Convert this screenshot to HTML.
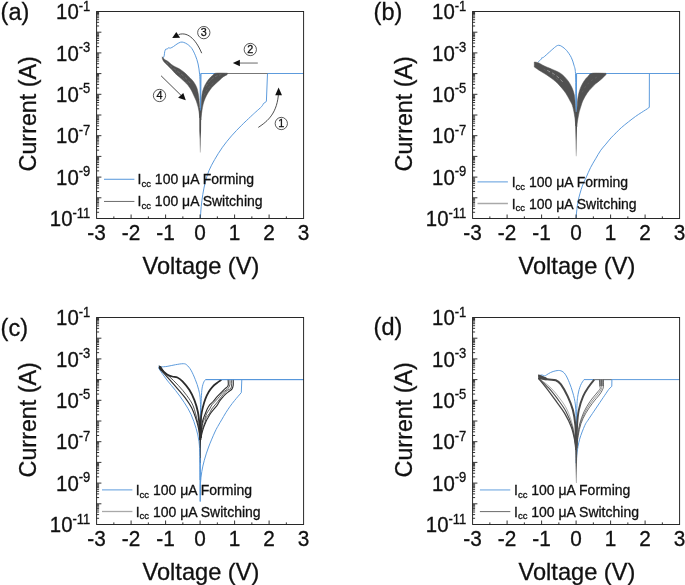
<!DOCTYPE html>
<html lang="en"><head><meta charset="utf-8"><title>I-V characteristics</title>
<style>html,body{margin:0;padding:0;background:#fff}svg{display:block}text{font-family:"Liberation Sans", Arial, sans-serif;fill:#111;stroke:#111;stroke-width:0.3px}</style>
</head><body>
<svg width="685" height="585" viewBox="0 0 685 585">
<rect width="685" height="585" fill="#fff"/>
<g id="plot-a">
<path d="M200.2 100 C200.18 97.5 200.2 89.3 200.1 85 C200 80.7 199.93 77.7 199.6 74.2 C199.27 70.7 198.78 67.07 198.1 64 C197.42 60.93 196.53 58.37 195.5 55.8 C194.47 53.23 193.18 50.48 191.9 48.6 C190.62 46.72 189.17 45.53 187.8 44.5 C186.43 43.47 184.9 42.78 183.7 42.4 C182.5 42.02 181.72 41.93 180.6 42.2 C179.48 42.47 178.18 43.28 177 44 C175.82 44.72 174.6 45.82 173.5 46.5 C172.4 47.18 171.27 47.88 170.4 48.1 C169.53 48.32 168.82 47.63 168.3 47.8 C167.78 47.97 167.72 48.88 167.3 49.1 C166.88 49.32 166.23 48.67 165.8 49.1 C165.37 49.53 164.97 50.58 164.7 51.7 C164.43 52.82 164.45 54.78 164.2 55.8 C163.95 56.82 163.37 57.47 163.2 57.8" fill="none" stroke="#5496da" stroke-width="0.95" stroke-linejoin="round" stroke-linecap="butt" />
<path d="M200.4 218 C200.53 216.12 200.8 210.63 201.2 206.7 C201.6 202.77 202.12 198.5 202.8 194.4 C203.48 190.3 204.28 186.03 205.3 182.1 C206.32 178.17 207.33 174.57 208.9 170.8 C210.47 167.03 212.43 163.43 214.7 159.5 C216.97 155.57 219.7 151.13 222.5 147.2 C225.3 143.27 228.37 139.5 231.5 135.9 C234.63 132.3 238.12 128.8 241.3 125.6 C244.48 122.4 248.18 118.98 250.6 116.7 C253.02 114.42 253.97 113.58 255.8 111.9 C257.63 110.22 260.33 107.98 261.6 106.6 C262.87 105.22 263.1 104.1 263.4 103.6 L265.9 101.9 L266.4 101.2 L267.5 73.5" fill="none" stroke="#5496da" stroke-width="0.95" stroke-linejoin="round" stroke-linecap="butt" />
<path d="M200.5 120 L200.9 73.5 L303.6 73.5" fill="none" stroke="#5496da" stroke-width="0.95" stroke-linejoin="round" stroke-linecap="butt" />
<path d="M226 73.5 L267.6 73.5" fill="none" stroke="#777" stroke-width="1" stroke-linejoin="round" stroke-linecap="butt" />
<path d="M162.3 56.8 C162.68 57.25 163.7 58.77 164.6 59.5 C165.5 60.23 166.55 60.37 167.7 61.2 C168.85 62.03 170.28 63.58 171.5 64.5 C172.72 65.42 173.7 65.98 175 66.7 C176.3 67.42 177.88 67.95 179.3 68.8 C180.72 69.65 182.08 70.65 183.5 71.8 C184.92 72.95 186.37 74.33 187.8 75.7 C189.23 77.07 190.88 78.58 192.1 80 C193.32 81.42 194.25 82.72 195.1 84.2 C195.95 85.68 196.62 86.97 197.2 88.9 C197.78 90.83 198.22 93.12 198.6 95.8 C198.98 98.48 199.27 101.63 199.5 105 C199.73 108.37 199.92 114.17 200 116 L199.7 118 C199.62 117.17 199.47 114.83 199.2 113 C198.93 111.17 198.58 109 198.1 107 C197.62 105 197.02 102.92 196.3 101 C195.58 99.08 194.65 97.33 193.8 95.5 C192.95 93.67 192.2 91.73 191.2 90 C190.2 88.27 189.08 86.63 187.8 85.1 C186.52 83.57 184.92 82.15 183.5 80.8 C182.08 79.45 180.72 78.27 179.3 77 C177.88 75.73 176.3 74.48 175 73.2 C173.7 71.92 172.72 70.58 171.5 69.3 C170.28 68.02 168.98 66.78 167.7 65.5 C166.42 64.22 164.7 62.78 163.8 61.6 C162.9 60.42 162.55 58.93 162.3 58.4 Z" fill="#515151" fill-opacity="1" stroke="#515151" stroke-width="0.5" stroke-linejoin="round"/>
<path d="M200.7 118 C200.73 117 200.82 114.17 200.9 112 C200.98 109.83 201.08 107.33 201.2 105 C201.32 102.67 201.35 100.32 201.6 98 C201.85 95.68 202.12 93.28 202.7 91.1 C203.28 88.92 204.1 86.87 205.1 84.9 C206.1 82.93 207.42 80.92 208.7 79.3 C209.98 77.68 211.6 76.22 212.8 75.2 C214 74.18 213.47 73.53 215.9 73.2 C218.33 72.87 225.48 73.2 227.4 73.2 L227.7 73.8 C227.53 73.98 227.47 74.38 226.7 74.9 C225.93 75.42 224.3 76 223.1 76.9 C221.9 77.8 220.78 79.13 219.5 80.3 C218.22 81.47 216.68 82.7 215.4 83.9 C214.12 85.1 213 86.05 211.8 87.5 C210.6 88.95 209.28 90.85 208.2 92.6 C207.12 94.35 206.13 96.1 205.3 98 C204.47 99.9 203.77 101.83 203.2 104 C202.63 106.17 202.23 109 201.9 111 C201.57 113 201.37 114.5 201.2 116 C201.03 117.5 200.95 119.33 200.9 120 Z" fill="#515151" fill-opacity="1" stroke="#515151" stroke-width="0.5" stroke-linejoin="round"/>
<path d="M166.5 62.4 C167.08 62.93 168.75 64.53 170 65.6 C171.25 66.67 172.58 67.73 174 68.8 C175.42 69.87 177 70.87 178.5 72 C180 73.13 181.52 74.3 183 75.6 C184.48 76.9 186.13 78.47 187.4 79.8 C188.67 81.13 190.07 82.97 190.6 83.6" fill="none" stroke="#8f8f8f" stroke-width="0.5" stroke-dasharray="2.2 2.6" stroke-linecap="round"/>
<path d="M172 68.8 C172.75 69.4 175 71.13 176.5 72.4 C178 73.67 179.52 75.03 181 76.4 C182.48 77.77 184.07 79.17 185.4 80.6 C186.73 82.03 188.4 84.27 189 85" fill="none" stroke="#7d7d7d" stroke-width="0.4" stroke-dasharray="1.5 3.4" stroke-linecap="round"/>
<path d="M206.2 86 C206.67 85.33 207.93 83.23 209 82 C210.07 80.77 211.33 79.6 212.6 78.6 C213.87 77.6 215.2 76.67 216.6 76 C218 75.33 220.27 74.83 221 74.6" fill="none" stroke="#8a8a8a" stroke-width="0.45" stroke-dasharray="2 2.4" stroke-linecap="round"/>
<path d="M204.2 95 C204.6 94.25 205.67 91.93 206.6 90.5 C207.53 89.07 208.63 87.68 209.8 86.4 C210.97 85.12 212.97 83.4 213.6 82.8" fill="none" stroke="#7d7d7d" stroke-width="0.4" stroke-dasharray="1.4 3" stroke-linecap="round"/>
<path d="M199.2 108 L201.2 108 L201.15 118 L201.05 131 L200.7 139 L200.55 152.4 L199.9 152.4 L199.75 139 L199.35 131 L199.3 118 Z" fill="url(#stemA)"/>
<path d="M200.75 73.5 L200.55 110.5" fill="none" stroke="#5496da" stroke-width="0.8" stroke-linejoin="round" stroke-linecap="butt" />
<defs><linearGradient id="stemA" x1="0" y1="108" x2="0" y2="152.4" gradientUnits="userSpaceOnUse"><stop offset="0" stop-color="#4d4d4d"/><stop offset="0.6" stop-color="#505050"/><stop offset="0.82" stop-color="#666"/><stop offset="1" stop-color="#a8a8a8"/></linearGradient></defs>
<path d="M258.3 127.4 C268 121 277.5 113 278.6 92" fill="none" stroke="#111" stroke-width="0.75" stroke-linejoin="round" stroke-linecap="butt" />
<path d="M278.6 87.6 L282 95.2 L275.2 95.2 Z" fill="#111"/>
<path d="M257.8 63.05 L238 63.05" fill="none" stroke="#8c8c8c" stroke-width="1.3" stroke-linejoin="round" stroke-linecap="butt" />
<path d="M232.8 63 L239.9 59.7 L239.9 66.3 Z" fill="#111"/>
<path d="M201.7 53.2 C197 42 189 31 178.6 34.6" fill="none" stroke="#111" stroke-width="0.75" stroke-linejoin="round" stroke-linecap="butt" />
<path d="M172.2 38.1 L176.3 32 L180.1 37.8 Z" fill="#111"/>
<path d="M161.1 75.8 L181.6 95.9" fill="none" stroke="#111" stroke-width="0.75" stroke-linejoin="round" stroke-linecap="butt" />
<path d="M185.8 100.2 L183.3 92.9 L178.1 97.8 Z" fill="#111"/>
<circle cx="281.3" cy="123.5" r="6.15" fill="none" stroke="#222" stroke-width="0.75"/>
<text x="281.3" y="127.35" font-size="10.8" text-anchor="middle" stroke-width="0.1">1</text>
<circle cx="250.3" cy="49.5" r="6.15" fill="none" stroke="#222" stroke-width="0.75"/>
<text x="250.3" y="53.35" font-size="10.8" text-anchor="middle" stroke-width="0.1">2</text>
<circle cx="203.8" cy="32.6" r="6.15" fill="none" stroke="#222" stroke-width="0.75"/>
<text x="203.8" y="36.45" font-size="10.8" text-anchor="middle" stroke-width="0.1">3</text>
<circle cx="159.5" cy="95.5" r="6.15" fill="none" stroke="#222" stroke-width="0.75"/>
<text x="159.5" y="99.35" font-size="10.8" text-anchor="middle" stroke-width="0.1">4</text>
<path d="M96.6 25.97h2.5M96.6 22.32h2.5M96.6 19.74h2.5M96.6 17.73h2.5M96.6 16.09h2.5M96.6 14.71h2.5M96.6 13.51h2.5M96.6 12.45h2.5M96.6 32.2h4.8M96.6 46.67h2.5M96.6 43.02h2.5M96.6 40.44h2.5M96.6 38.43h2.5M96.6 36.79h2.5M96.6 35.41h2.5M96.6 34.21h2.5M96.6 33.15h2.5M96.6 52.9h4.8M96.6 67.37h2.5M96.6 63.72h2.5M96.6 61.14h2.5M96.6 59.13h2.5M96.6 57.49h2.5M96.6 56.11h2.5M96.6 54.91h2.5M96.6 53.85h2.5M96.6 73.6h4.8M96.6 88.07h2.5M96.6 84.42h2.5M96.6 81.84h2.5M96.6 79.83h2.5M96.6 78.19h2.5M96.6 76.81h2.5M96.6 75.61h2.5M96.6 74.55h2.5M96.6 94.3h4.8M96.6 108.77h2.5M96.6 105.12h2.5M96.6 102.54h2.5M96.6 100.53h2.5M96.6 98.89h2.5M96.6 97.51h2.5M96.6 96.31h2.5M96.6 95.25h2.5M96.6 115h4.8M96.6 129.47h2.5M96.6 125.82h2.5M96.6 123.24h2.5M96.6 121.23h2.5M96.6 119.59h2.5M96.6 118.21h2.5M96.6 117.01h2.5M96.6 115.95h2.5M96.6 135.7h4.8M96.6 150.17h2.5M96.6 146.52h2.5M96.6 143.94h2.5M96.6 141.93h2.5M96.6 140.29h2.5M96.6 138.91h2.5M96.6 137.71h2.5M96.6 136.65h2.5M96.6 156.4h4.8M96.6 170.87h2.5M96.6 167.22h2.5M96.6 164.64h2.5M96.6 162.63h2.5M96.6 160.99h2.5M96.6 159.61h2.5M96.6 158.41h2.5M96.6 157.35h2.5M96.6 177.1h4.8M96.6 191.57h2.5M96.6 187.92h2.5M96.6 185.34h2.5M96.6 183.33h2.5M96.6 181.69h2.5M96.6 180.31h2.5M96.6 179.11h2.5M96.6 178.05h2.5M96.6 197.8h4.8M96.6 212.27h2.5M96.6 208.62h2.5M96.6 206.04h2.5M96.6 204.03h2.5M96.6 202.39h2.5M96.6 201.01h2.5M96.6 199.81h2.5M96.6 198.75h2.5" stroke="#1e1e1e" stroke-width="0.9" fill="none"/>
<path d="M113.85 218.5v-2.1M131.1 218.5v-4M148.35 218.5v-2.1M165.6 218.5v-4M182.85 218.5v-2.1M200.1 218.5v-4M217.35 218.5v-2.1M234.6 218.5v-4M251.85 218.5v-2.1M269.1 218.5v-4M286.35 218.5v-2.1" stroke="#1e1e1e" stroke-width="0.9" fill="none"/>
<rect x="96.6" y="11.5" width="207" height="207" fill="none" stroke="#1e1e1e" stroke-width="0.95"/>
<text transform="translate(96.6 240.1) scale(1 1.055)" font-size="20.8" text-anchor="middle">-3</text>
<text transform="translate(131.1 240.1) scale(1 1.055)" font-size="20.8" text-anchor="middle">-2</text>
<text transform="translate(165.6 240.1) scale(1 1.055)" font-size="20.8" text-anchor="middle">-1</text>
<text transform="translate(200.1 240.1) scale(1 1.055)" font-size="20.8" text-anchor="middle">0</text>
<text transform="translate(234.6 240.1) scale(1 1.055)" font-size="20.8" text-anchor="middle">1</text>
<text transform="translate(269.1 240.1) scale(1 1.055)" font-size="20.8" text-anchor="middle">2</text>
<text transform="translate(303.6 240.1) scale(1 1.055)" font-size="20.8" text-anchor="middle">3</text>
<text transform="translate(90.3 19.1) scale(1 1.055)" font-size="20.4" text-anchor="end">10<tspan font-size="13" dy="-8.1">-1</tspan></text>
<text transform="translate(90.3 60.5) scale(1 1.055)" font-size="20.4" text-anchor="end">10<tspan font-size="13" dy="-8.1">-3</tspan></text>
<text transform="translate(90.3 101.9) scale(1 1.055)" font-size="20.4" text-anchor="end">10<tspan font-size="13" dy="-8.1">-5</tspan></text>
<text transform="translate(90.3 143.3) scale(1 1.055)" font-size="20.4" text-anchor="end">10<tspan font-size="13" dy="-8.1">-7</tspan></text>
<text transform="translate(90.3 184.7) scale(1 1.055)" font-size="20.4" text-anchor="end">10<tspan font-size="13" dy="-8.1">-9</tspan></text>
<text transform="translate(90.3 226.1) scale(1 1.055)" font-size="20.4" text-anchor="end">10<tspan font-size="13" dy="-8.1">-11</tspan></text>
<text x="200.9" y="273.5" font-size="23.6" text-anchor="middle">Voltage (V)</text>
<text transform="translate(36.2 113.8) rotate(-90)" font-size="23.3" text-anchor="middle">Current (A)</text>
<text x="0.6" y="19.6" font-size="23.5">(a)</text>
<path d="M104 179.3h30.4" stroke="#6aa3df" stroke-width="1.15" fill="none"/>
<text x="137.6" y="184.3" font-size="14" fill="#222" stroke-width="0.12">I<tspan font-size="9.5" dy="2.6">cc</tspan><tspan dy="-2.6"> 100 μA Forming</tspan></text>
<path d="M104 201.45h30.4" stroke="#505050" stroke-width="0.85" fill="none"/>
<text x="137.6" y="205.9" font-size="14" fill="#222" stroke-width="0.12">I<tspan font-size="9.5" dy="2.6">cc</tspan><tspan dy="-2.6"> 100 μA Switching</tspan></text>
</g>
<g id="plot-b">
<path d="M576.1 118 C576.07 115 576 107.42 575.9 100 C575.8 92.58 575.83 79.33 575.5 73.5 C575.17 67.67 574.62 67.7 573.9 65 C573.18 62.3 572.43 59.73 571.2 57.3 C569.97 54.87 568.05 52.2 566.5 50.4 C564.95 48.6 563.18 47.35 561.9 46.5 C560.62 45.65 559.82 45.3 558.8 45.3 C557.78 45.3 557.33 45.4 555.8 46.5 C554.27 47.6 551.65 50.1 549.6 51.9 C547.55 53.7 544.78 56.35 543.5 57.3 C542.22 58.25 542.28 57.28 541.9 57.6 C541.52 57.92 541.83 58.48 541.2 59.2 C540.57 59.92 538.62 61.45 538.1 61.9" fill="none" stroke="#5496da" stroke-width="0.95" stroke-linejoin="round" stroke-linecap="butt" />
<path d="M576.1 218.3 C576.18 217.25 576.25 214.97 576.6 212 C576.95 209.03 577.25 204.82 578.2 200.5 C579.15 196.18 580.93 190.03 582.3 186.1 C583.67 182.17 585.03 179.97 586.4 176.9 C587.77 173.83 588.97 170.72 590.5 167.7 C592.03 164.68 593.88 161.72 595.6 158.8 C597.32 155.88 599.08 152.65 600.8 150.2 C602.52 147.75 604.2 146.15 605.9 144.1 C607.6 142.05 609.3 139.78 611 137.9 C612.7 136.02 614.38 134.5 616.1 132.8 C617.82 131.1 619.25 129.52 621.3 127.7 C623.35 125.88 626.02 123.78 628.4 121.9 C630.78 120.02 633.37 118 635.6 116.4 C637.83 114.8 639.63 113.7 641.8 112.3 C643.97 110.9 647.47 108.72 648.6 108 L649.3 107 L649.4 73.5" fill="none" stroke="#5496da" stroke-width="0.95" stroke-linejoin="round" stroke-linecap="butt" />
<path d="M576.2 120 L576.6 73.5 L679.6 73.5" fill="none" stroke="#5496da" stroke-width="0.95" stroke-linejoin="round" stroke-linecap="butt" />
<path d="M534.3 62 C535 62.13 537.08 62.27 538.5 62.8 C539.92 63.33 541.37 64.47 542.8 65.2 C544.23 65.93 545.67 66.58 547.1 67.2 C548.53 67.82 549.98 68.3 551.4 68.9 C552.82 69.5 554.18 70.13 555.6 70.8 C557.02 71.47 558.47 71.97 559.9 72.9 C561.33 73.83 562.77 74.97 564.2 76.4 C565.63 77.83 567.22 79.65 568.5 81.5 C569.78 83.35 570.98 85.5 571.9 87.5 C572.82 89.5 573.5 91.52 574 93.5 C574.5 95.48 574.67 96.98 574.9 99.4 C575.13 101.82 575.25 105.23 575.4 108 C575.55 110.77 575.73 114.67 575.8 116 L575.7 126 C575.63 125.17 575.53 123 575.3 121 C575.07 119 574.78 116.57 574.3 114 C573.82 111.43 573.08 107.75 572.4 105.6 C571.72 103.45 571 102.67 570.2 101.1 C569.4 99.53 568.6 97.88 567.6 96.2 C566.6 94.52 565.48 92.72 564.2 91 C562.92 89.28 561.33 87.47 559.9 85.9 C558.47 84.33 557.02 82.88 555.6 81.6 C554.18 80.32 552.82 79.27 551.4 78.2 C549.98 77.13 548.53 76.13 547.1 75.2 C545.67 74.27 544.23 73.48 542.8 72.6 C541.37 71.72 539.92 70.83 538.5 69.9 C537.08 68.97 535 67.48 534.3 67 Z" fill="#515151" fill-opacity="1" stroke="#515151" stroke-width="0.5" stroke-linejoin="round"/>
<path d="M576.5 118 C576.62 115.87 577 108.33 577.2 105.2 C577.4 102.07 577.4 101.33 577.7 99.2 C578 97.07 578.43 94.53 579 92.4 C579.57 90.27 580.18 88.4 581.1 86.4 C582.02 84.4 583.37 82.05 584.5 80.4 C585.63 78.75 586.62 77.68 587.9 76.5 C589.18 75.32 589.18 73.83 592.2 73.3 C595.22 72.77 603.7 73.3 606 73.3 L606.2 74.2 C605.87 74.58 605.25 75.47 604.2 76.5 C603.15 77.53 601.33 79.18 599.9 80.4 C598.47 81.62 597.02 82.52 595.6 83.8 C594.18 85.08 592.82 86.53 591.4 88.1 C589.98 89.67 588.5 91.15 587.1 93.2 C585.7 95.25 584.02 98.27 583 100.4 C581.98 102.53 581.62 104.15 581 106 C580.38 107.85 579.77 109.67 579.3 111.5 C578.83 113.33 578.53 115.25 578.2 117 C577.87 118.75 577.55 120.33 577.3 122 C577.05 123.67 576.8 126.17 576.7 127 Z" fill="#515151" fill-opacity="1" stroke="#515151" stroke-width="0.5" stroke-linejoin="round"/>
<path d="M547.6 70.6 C548.27 70.93 550.27 71.83 551.6 72.6 C552.93 73.37 554.3 74.23 555.6 75.2 C556.9 76.17 558.27 77.33 559.4 78.4 C560.53 79.47 561.9 81.07 562.4 81.6" fill="none" stroke="#bdbdbd" stroke-width="0.6" stroke-dasharray="2.4 3" stroke-linecap="round"/>
<path d="M544 69.2 C544.77 69.67 547.1 70.97 548.6 72 C550.1 73.03 551.5 74.17 553 75.4 C554.5 76.63 556.83 78.73 557.6 79.4" fill="none" stroke="#7d7d7d" stroke-width="0.4" stroke-dasharray="1.5 3.6" stroke-linecap="round"/>
<path d="M582.4 92 C582.8 91.27 583.87 89 584.8 87.6 C585.73 86.2 586.8 84.83 588 83.6 C589.2 82.37 590.6 81.23 592 80.2 C593.4 79.17 595.67 77.87 596.4 77.4" fill="none" stroke="#7a7a7a" stroke-width="0.4" stroke-dasharray="1.4 3.4" stroke-linecap="round"/>
<path d="M575.2 112 L577.2 112 L577.15 122 L576.9 132 L576.65 141 L576.5 156.2 L575.85 156.2 L575.7 141 L575.45 132 L575.2 122 Z" fill="url(#stemB)"/>
<path d="M576.25 73.5 L576.2 109.5" fill="none" stroke="#5496da" stroke-width="0.85" stroke-linejoin="round" stroke-linecap="butt" />
<defs><linearGradient id="stemB" x1="0" y1="112" x2="0" y2="156.2" gradientUnits="userSpaceOnUse"><stop offset="0" stop-color="#4d4d4d"/><stop offset="0.6" stop-color="#505050"/><stop offset="0.82" stop-color="#666"/><stop offset="1" stop-color="#a8a8a8"/></linearGradient></defs>
<path d="M472.6 25.97h2.5M472.6 22.32h2.5M472.6 19.74h2.5M472.6 17.73h2.5M472.6 16.09h2.5M472.6 14.71h2.5M472.6 13.51h2.5M472.6 12.45h2.5M472.6 32.2h4.8M472.6 46.67h2.5M472.6 43.02h2.5M472.6 40.44h2.5M472.6 38.43h2.5M472.6 36.79h2.5M472.6 35.41h2.5M472.6 34.21h2.5M472.6 33.15h2.5M472.6 52.9h4.8M472.6 67.37h2.5M472.6 63.72h2.5M472.6 61.14h2.5M472.6 59.13h2.5M472.6 57.49h2.5M472.6 56.11h2.5M472.6 54.91h2.5M472.6 53.85h2.5M472.6 73.6h4.8M472.6 88.07h2.5M472.6 84.42h2.5M472.6 81.84h2.5M472.6 79.83h2.5M472.6 78.19h2.5M472.6 76.81h2.5M472.6 75.61h2.5M472.6 74.55h2.5M472.6 94.3h4.8M472.6 108.77h2.5M472.6 105.12h2.5M472.6 102.54h2.5M472.6 100.53h2.5M472.6 98.89h2.5M472.6 97.51h2.5M472.6 96.31h2.5M472.6 95.25h2.5M472.6 115h4.8M472.6 129.47h2.5M472.6 125.82h2.5M472.6 123.24h2.5M472.6 121.23h2.5M472.6 119.59h2.5M472.6 118.21h2.5M472.6 117.01h2.5M472.6 115.95h2.5M472.6 135.7h4.8M472.6 150.17h2.5M472.6 146.52h2.5M472.6 143.94h2.5M472.6 141.93h2.5M472.6 140.29h2.5M472.6 138.91h2.5M472.6 137.71h2.5M472.6 136.65h2.5M472.6 156.4h4.8M472.6 170.87h2.5M472.6 167.22h2.5M472.6 164.64h2.5M472.6 162.63h2.5M472.6 160.99h2.5M472.6 159.61h2.5M472.6 158.41h2.5M472.6 157.35h2.5M472.6 177.1h4.8M472.6 191.57h2.5M472.6 187.92h2.5M472.6 185.34h2.5M472.6 183.33h2.5M472.6 181.69h2.5M472.6 180.31h2.5M472.6 179.11h2.5M472.6 178.05h2.5M472.6 197.8h4.8M472.6 212.27h2.5M472.6 208.62h2.5M472.6 206.04h2.5M472.6 204.03h2.5M472.6 202.39h2.5M472.6 201.01h2.5M472.6 199.81h2.5M472.6 198.75h2.5" stroke="#1e1e1e" stroke-width="0.9" fill="none"/>
<path d="M489.85 218.5v-2.1M507.1 218.5v-4M524.35 218.5v-2.1M541.6 218.5v-4M558.85 218.5v-2.1M576.1 218.5v-4M593.35 218.5v-2.1M610.6 218.5v-4M627.85 218.5v-2.1M645.1 218.5v-4M662.35 218.5v-2.1" stroke="#1e1e1e" stroke-width="0.9" fill="none"/>
<rect x="472.6" y="11.5" width="207" height="207" fill="none" stroke="#1e1e1e" stroke-width="0.95"/>
<text transform="translate(472.6 240.1) scale(1 1.055)" font-size="20.8" text-anchor="middle">-3</text>
<text transform="translate(507.1 240.1) scale(1 1.055)" font-size="20.8" text-anchor="middle">-2</text>
<text transform="translate(541.6 240.1) scale(1 1.055)" font-size="20.8" text-anchor="middle">-1</text>
<text transform="translate(576.1 240.1) scale(1 1.055)" font-size="20.8" text-anchor="middle">0</text>
<text transform="translate(610.6 240.1) scale(1 1.055)" font-size="20.8" text-anchor="middle">1</text>
<text transform="translate(645.1 240.1) scale(1 1.055)" font-size="20.8" text-anchor="middle">2</text>
<text transform="translate(679.6 240.1) scale(1 1.055)" font-size="20.8" text-anchor="middle">3</text>
<text transform="translate(466.3 19.1) scale(1 1.055)" font-size="20.4" text-anchor="end">10<tspan font-size="13" dy="-8.1">-1</tspan></text>
<text transform="translate(466.3 60.5) scale(1 1.055)" font-size="20.4" text-anchor="end">10<tspan font-size="13" dy="-8.1">-3</tspan></text>
<text transform="translate(466.3 101.9) scale(1 1.055)" font-size="20.4" text-anchor="end">10<tspan font-size="13" dy="-8.1">-5</tspan></text>
<text transform="translate(466.3 143.3) scale(1 1.055)" font-size="20.4" text-anchor="end">10<tspan font-size="13" dy="-8.1">-7</tspan></text>
<text transform="translate(466.3 184.7) scale(1 1.055)" font-size="20.4" text-anchor="end">10<tspan font-size="13" dy="-8.1">-9</tspan></text>
<text transform="translate(466.3 226.1) scale(1 1.055)" font-size="20.4" text-anchor="end">10<tspan font-size="13" dy="-8.1">-11</tspan></text>
<text x="576.9" y="273.5" font-size="23.6" text-anchor="middle">Voltage (V)</text>
<text transform="translate(412.2 113.8) rotate(-90)" font-size="23.3" text-anchor="middle">Current (A)</text>
<text x="373.6" y="19.6" font-size="23.5">(b)</text>
<path d="M477.5 181.9h30.4" stroke="#5496da" stroke-width="0.95" fill="none"/>
<text x="511.7" y="186.9" font-size="14" fill="#222" stroke-width="0.12">I<tspan font-size="9.5" dy="2.6">cc</tspan><tspan dy="-2.6"> 100 μA Forming</tspan></text>
<path d="M477.5 203.5h30.4" stroke="#a9a9a9" stroke-width="1.5" fill="none"/>
<text x="511.7" y="208.5" font-size="14" fill="#222" stroke-width="0.12">I<tspan font-size="9.5" dy="2.6">cc</tspan><tspan dy="-2.6"> 100 μA Switching</tspan></text>
</g>
<g id="plot-c">
<path d="M200.2 501.5 C200.2 496.25 200.18 481.92 200.2 470 C200.22 458.08 200.27 441.37 200.3 430 C200.33 418.63 200.67 408.5 200.4 401.8 C200.13 395.1 199.55 393.5 198.7 389.8 C197.85 386.1 196.58 382.87 195.3 379.6 C194.02 376.33 192.42 372.63 191 370.2 C189.58 367.77 188.08 366.08 186.8 365 C185.52 363.92 185.17 363.75 183.3 363.7 C181.43 363.65 178.3 364.25 175.6 364.7 C172.9 365.15 169.52 366.05 167.1 366.4 C164.68 366.75 162.38 366.88 161.1 366.8 C159.82 366.72 159.77 365.62 159.4 365.9 C159.03 366.18 158.98 368.07 158.9 368.5" fill="none" stroke="#5496da" stroke-width="0.95" stroke-linejoin="round" stroke-linecap="butt" />
<path d="M158.8 368.5 C160.15 370.42 164.12 376.35 166.9 380 C169.68 383.65 172.63 386.68 175.5 390.4 C178.37 394.12 181.52 398.32 184.1 402.3 C186.68 406.28 189 409.95 191 414.3 C193 418.65 194.77 423.85 196.1 428.4 C197.43 432.95 198.38 436.92 199 441.6 C199.62 446.28 199.62 450.1 199.8 456.5 C199.98 462.9 200.05 476.08 200.1 480" fill="none" stroke="#5496da" stroke-width="0.95" stroke-linejoin="round" stroke-linecap="butt" />
<path d="M200.4 440 C200.47 435.83 200.65 421.93 200.8 415 C200.95 408.07 201.08 402.88 201.3 398.4 C201.52 393.92 201.68 390.82 202.1 388.1 C202.52 385.38 203.22 383.52 203.8 382.1 C204.38 380.68 205.3 380.02 205.6 379.6 L303.6 379.6" fill="none" stroke="#5496da" stroke-width="0.95" stroke-linejoin="round" stroke-linecap="butt" />
<path d="M200.4 495 C200.42 492.98 200.27 486.8 200.5 482.9 C200.73 479 201.17 475.37 201.8 471.6 C202.43 467.83 203.17 464.4 204.3 460.3 C205.43 456.2 206.83 451.72 208.6 447 C210.37 442.28 213.23 435.67 214.9 432 C216.57 428.33 217.48 427.02 218.6 425 C219.72 422.98 220.38 421.97 221.6 419.9 C222.82 417.83 224.47 414.88 225.9 412.6 C227.33 410.32 228.77 408.2 230.2 406.2 C231.63 404.2 232.65 402.87 234.5 400.6 C236.35 398.33 240.17 393.93 241.3 392.6 L241.8 379.6" fill="none" stroke="#5496da" stroke-width="0.95" stroke-linejoin="round" stroke-linecap="butt" />
<path d="M159.2 366.6 C159.67 367.2 160.68 368.9 162 370.2 C163.32 371.5 165.4 373.35 167.1 374.4 C168.8 375.45 170.48 375.98 172.2 376.5 C173.92 377.02 175.68 376.7 177.4 377.5 C179.12 378.3 180.52 379.25 182.5 381.3 C184.48 383.35 187.32 386.67 189.3 389.8 C191.28 392.93 192.97 396.4 194.4 400.1 C195.83 403.8 197.04 407.73 197.9 412 C198.76 416.27 199.22 422.03 199.55 425.7 C199.88 429.37 199.82 431.62 199.9 434 C199.98 436.38 200.03 439 200.05 440" fill="none" stroke="#2b2b2b" stroke-width="1.8" stroke-linejoin="round" stroke-linecap="butt" />
<path d="M158.6 365.6 L161 366.2 L164.4 371.6 L160.4 370.4 Z" fill="#2b2b2b"/>
<path d="M159.2 368.2 C160.6 369.72 164.71 374.16 167.58 377.34 C170.45 380.52 173.5 383.92 176.4 387.3 C179.3 390.68 182.46 394.18 185 397.6 C187.54 401.02 189.72 403.97 191.64 407.8 C193.56 411.63 195.32 416.9 196.52 420.6 C197.72 424.3 198.33 427.1 198.86 430 C199.39 432.9 199.56 436.67 199.7 438" fill="none" stroke="#2b2b2b" stroke-width="1.15" stroke-linejoin="round" stroke-linecap="butt" />
<path d="M159.2 368.2 C160.79 369.5 165.54 373.14 168.72 376.01 C171.9 378.88 175.27 382.12 178.3 385.4 C181.33 388.68 184.42 392.28 186.9 395.7 C189.38 399.12 191.43 401.75 193.16 405.9 C194.89 410.05 196.27 416.58 197.28 420.6 C198.29 424.62 198.84 427.1 199.24 430 C199.64 432.9 199.62 436.67 199.7 438" fill="none" stroke="#2b2b2b" stroke-width="0.8" stroke-linejoin="round" stroke-linecap="butt" />
<path d="M200.45 440 C200.47 439 200.5 436.33 200.55 434 C200.6 431.67 200.64 429 200.75 426 C200.86 423 200.86 419.08 201.2 416 C201.54 412.92 202.1 410.35 202.8 407.5 C203.5 404.65 204.4 401.52 205.4 398.9 C206.4 396.28 207.62 393.82 208.8 391.8 C209.98 389.78 211.2 388.23 212.5 386.8 C213.8 385.37 215.12 384.37 216.6 383.2 C218.08 382.03 220.6 380.37 221.4 379.8" fill="none" stroke="#2b2b2b" stroke-width="1.75" stroke-linejoin="round" stroke-linecap="butt" />
<path d="M228.1 379.6 C228.13 380.4 228.38 383.25 228.3 384.4 C228.22 385.55 228.13 385.78 227.6 386.5 C227.07 387.22 226.1 387.77 225.1 388.7 C224.1 389.63 222.88 390.82 221.6 392.1 C220.32 393.38 218.82 394.83 217.4 396.4 C215.98 397.97 214.38 400.08 213.1 401.5 C211.82 402.92 210.7 403.62 209.7 404.9 C208.7 406.18 207.82 407.77 207.1 409.2 C206.38 410.63 205.97 412.08 205.4 413.5 C204.83 414.92 204.2 416.28 203.7 417.7 C203.2 419.12 202.8 419.95 202.4 422 C202 424.05 201.58 427.33 201.3 430 C201.02 432.67 200.8 436.67 200.7 438" fill="none" stroke="#2e2e2e" stroke-width="1.1" stroke-linejoin="round" stroke-linecap="butt" />
<path d="M229.94 379.6 C229.93 380.44 230.09 383.35 229.91 384.63 C229.72 385.9 229.36 386.41 228.83 387.25 C228.31 388.09 227.76 388.81 226.75 389.68 C225.74 390.55 223.96 391.36 222.76 392.48 C221.57 393.6 220.81 394.98 219.59 396.42 C218.37 397.86 216.68 399.73 215.43 401.1 C214.17 402.48 213.05 403.31 212.07 404.66 C211.1 406.01 210.43 407.77 209.55 409.2 C208.68 410.64 207.55 411.84 206.82 413.25 C206.09 414.66 205.79 416.24 205.19 417.66 C204.59 419.08 203.86 419.75 203.24 421.77 C202.62 423.79 201.88 427.07 201.47 429.78 C201.06 432.48 200.89 436.63 200.77 438" fill="none" stroke="#2e2e2e" stroke-width="0.8" stroke-linejoin="round" stroke-linecap="butt" />
<path d="M231.57 379.6 C231.57 380.5 231.69 383.5 231.56 384.97 C231.44 386.45 231.48 387.57 230.82 388.44 C230.16 389.32 228.71 389.42 227.62 390.2 C226.53 390.97 225.28 392.06 224.27 393.11 C223.27 394.15 222.62 395.13 221.59 396.47 C220.57 397.81 219.23 399.72 218.13 401.13 C217.03 402.54 216.09 403.61 215.01 404.94 C213.92 406.28 212.58 407.67 211.63 409.14 C210.68 410.61 210.2 412.37 209.3 413.76 C208.39 415.14 206.93 416.05 206.22 417.46 C205.51 418.86 205.72 420.12 205.03 422.19 C204.35 424.27 202.83 427.25 202.13 429.89 C201.43 432.52 201.05 436.65 200.84 438" fill="none" stroke="#2e2e2e" stroke-width="0.8" stroke-linejoin="round" stroke-linecap="butt" />
<path d="M233.2 379.6 C233.2 380.55 233.42 383.72 233.2 385.3 C232.98 386.88 232.55 388.12 231.9 389.1 C231.25 390.08 230.3 390.42 229.3 391.2 C228.3 391.98 226.88 392.93 225.9 393.8 C224.92 394.67 224.4 395.27 223.4 396.4 C222.4 397.53 220.9 399.18 219.9 400.6 C218.9 402.02 218.4 403.47 217.4 404.9 C216.4 406.33 215.05 407.77 213.9 409.2 C212.75 410.63 211.48 412.08 210.5 413.5 C209.52 414.92 208.78 416.28 208 417.7 C207.22 419.12 206.67 419.95 205.8 422 C204.93 424.05 203.62 427.33 202.8 430 C201.98 432.67 201.22 436.67 200.9 438" fill="none" stroke="#2e2e2e" stroke-width="1.1" stroke-linejoin="round" stroke-linecap="butt" />
<path d="M205.6 379.6 L303.6 379.6" fill="none" stroke="#5496da" stroke-width="0.95" stroke-linejoin="round" stroke-linecap="butt" />
<path d="M199.2 430 L201.3 430 L201.2 437 L200.9 443 L200.7 449 L200.6 463 L199.95 463 L199.85 449 L199.6 443 L199.3 437 Z" fill="#303030"/>
<path d="M200.2 458 L200.2 501.5" fill="none" stroke="#5496da" stroke-width="0.95" stroke-linejoin="round" stroke-linecap="butt" />
<path d="M96.6 331.97h2.5M96.6 328.32h2.5M96.6 325.74h2.5M96.6 323.73h2.5M96.6 322.09h2.5M96.6 320.71h2.5M96.6 319.51h2.5M96.6 318.45h2.5M96.6 338.2h4.8M96.6 352.67h2.5M96.6 349.02h2.5M96.6 346.44h2.5M96.6 344.43h2.5M96.6 342.79h2.5M96.6 341.41h2.5M96.6 340.21h2.5M96.6 339.15h2.5M96.6 358.9h4.8M96.6 373.37h2.5M96.6 369.72h2.5M96.6 367.14h2.5M96.6 365.13h2.5M96.6 363.49h2.5M96.6 362.11h2.5M96.6 360.91h2.5M96.6 359.85h2.5M96.6 379.6h4.8M96.6 394.07h2.5M96.6 390.42h2.5M96.6 387.84h2.5M96.6 385.83h2.5M96.6 384.19h2.5M96.6 382.81h2.5M96.6 381.61h2.5M96.6 380.55h2.5M96.6 400.3h4.8M96.6 414.77h2.5M96.6 411.12h2.5M96.6 408.54h2.5M96.6 406.53h2.5M96.6 404.89h2.5M96.6 403.51h2.5M96.6 402.31h2.5M96.6 401.25h2.5M96.6 421h4.8M96.6 435.47h2.5M96.6 431.82h2.5M96.6 429.24h2.5M96.6 427.23h2.5M96.6 425.59h2.5M96.6 424.21h2.5M96.6 423.01h2.5M96.6 421.95h2.5M96.6 441.7h4.8M96.6 456.17h2.5M96.6 452.52h2.5M96.6 449.94h2.5M96.6 447.93h2.5M96.6 446.29h2.5M96.6 444.91h2.5M96.6 443.71h2.5M96.6 442.65h2.5M96.6 462.4h4.8M96.6 476.87h2.5M96.6 473.22h2.5M96.6 470.64h2.5M96.6 468.63h2.5M96.6 466.99h2.5M96.6 465.61h2.5M96.6 464.41h2.5M96.6 463.35h2.5M96.6 483.1h4.8M96.6 497.57h2.5M96.6 493.92h2.5M96.6 491.34h2.5M96.6 489.33h2.5M96.6 487.69h2.5M96.6 486.31h2.5M96.6 485.11h2.5M96.6 484.05h2.5M96.6 503.8h4.8M96.6 518.27h2.5M96.6 514.62h2.5M96.6 512.04h2.5M96.6 510.03h2.5M96.6 508.39h2.5M96.6 507.01h2.5M96.6 505.81h2.5M96.6 504.75h2.5" stroke="#1e1e1e" stroke-width="0.9" fill="none"/>
<path d="M113.85 524.5v-2.1M131.1 524.5v-4M148.35 524.5v-2.1M165.6 524.5v-4M182.85 524.5v-2.1M200.1 524.5v-4M217.35 524.5v-2.1M234.6 524.5v-4M251.85 524.5v-2.1M269.1 524.5v-4M286.35 524.5v-2.1" stroke="#1e1e1e" stroke-width="0.9" fill="none"/>
<rect x="96.6" y="317.5" width="207" height="207" fill="none" stroke="#1e1e1e" stroke-width="0.95"/>
<text transform="translate(96.6 546.1) scale(1 1.055)" font-size="20.8" text-anchor="middle">-3</text>
<text transform="translate(131.1 546.1) scale(1 1.055)" font-size="20.8" text-anchor="middle">-2</text>
<text transform="translate(165.6 546.1) scale(1 1.055)" font-size="20.8" text-anchor="middle">-1</text>
<text transform="translate(200.1 546.1) scale(1 1.055)" font-size="20.8" text-anchor="middle">0</text>
<text transform="translate(234.6 546.1) scale(1 1.055)" font-size="20.8" text-anchor="middle">1</text>
<text transform="translate(269.1 546.1) scale(1 1.055)" font-size="20.8" text-anchor="middle">2</text>
<text transform="translate(303.6 546.1) scale(1 1.055)" font-size="20.8" text-anchor="middle">3</text>
<text transform="translate(90.3 325.1) scale(1 1.055)" font-size="20.4" text-anchor="end">10<tspan font-size="13" dy="-8.1">-1</tspan></text>
<text transform="translate(90.3 366.5) scale(1 1.055)" font-size="20.4" text-anchor="end">10<tspan font-size="13" dy="-8.1">-3</tspan></text>
<text transform="translate(90.3 407.9) scale(1 1.055)" font-size="20.4" text-anchor="end">10<tspan font-size="13" dy="-8.1">-5</tspan></text>
<text transform="translate(90.3 449.3) scale(1 1.055)" font-size="20.4" text-anchor="end">10<tspan font-size="13" dy="-8.1">-7</tspan></text>
<text transform="translate(90.3 490.7) scale(1 1.055)" font-size="20.4" text-anchor="end">10<tspan font-size="13" dy="-8.1">-9</tspan></text>
<text transform="translate(90.3 532.1) scale(1 1.055)" font-size="20.4" text-anchor="end">10<tspan font-size="13" dy="-8.1">-11</tspan></text>
<text x="200.9" y="579.5" font-size="23.6" text-anchor="middle">Voltage (V)</text>
<text transform="translate(36.2 419.8) rotate(-90)" font-size="23.3" text-anchor="middle">Current (A)</text>
<text x="0.6" y="335.6" font-size="23.5">(c)</text>
<path d="M102 489.9h30.4" stroke="#5496da" stroke-width="0.95" fill="none"/>
<text x="135.7" y="494.9" font-size="14" fill="#222" stroke-width="0.12">I<tspan font-size="9.5" dy="2.6">cc</tspan><tspan dy="-2.6"> 100 μA Forming</tspan></text>
<path d="M102 511.5h30.4" stroke="#a9a9a9" stroke-width="1.3" fill="none"/>
<text x="135.7" y="516.5" font-size="14" fill="#222" stroke-width="0.12">I<tspan font-size="9.5" dy="2.6">cc</tspan><tspan dy="-2.6"> 100 μA Switching</tspan></text>
</g>
<g id="plot-d">
<path d="M576.2 463 C576.22 459.17 576.28 446.25 576.3 440 C576.32 433.75 576.45 431.33 576.3 425.5 C576.15 419.67 575.97 410.42 575.4 405 C574.83 399.58 573.9 396.72 572.9 393 C571.9 389.28 570.68 385.83 569.4 382.7 C568.12 379.57 566.62 376.18 565.2 374.2 C563.78 372.22 562.47 371.37 560.9 370.8 C559.33 370.23 557.52 370.52 555.8 370.8 C554.08 371.08 552.17 371.8 550.6 372.5 C549.03 373.2 547.38 374.43 546.4 375 C545.42 375.57 545.42 375.9 544.7 375.9 C543.98 375.9 542.97 375.08 542.1 375 C541.23 374.92 539.93 375.33 539.5 375.4" fill="none" stroke="#5496da" stroke-width="0.95" stroke-linejoin="round" stroke-linecap="butt" />
<path d="M576.5 440 C576.55 434.73 576.55 415.95 576.8 408.4 C577.05 400.85 577.37 398.55 578 394.7 C578.63 390.85 579.6 387.82 580.6 385.3 C581.6 382.78 583.43 380.55 584 379.6 L679.6 379.6" fill="none" stroke="#5496da" stroke-width="0.95" stroke-linejoin="round" stroke-linecap="butt" />
<path d="M576.3 463.2 C576.42 461.5 576.45 456.98 577 453 C577.55 449.02 578.32 443.87 579.6 439.3 C580.88 434.73 583.32 428.77 584.7 425.6 C586.08 422.43 586.35 422.7 587.9 420.3 C589.45 417.9 591.98 414.2 594 411.2 C596.02 408.2 598 405.27 600 402.3 C602 399.33 604.55 395.55 606 393.4 C607.45 391.25 608.25 390.07 608.7 389.4 L611.8 386.3 L611.9 379.6" fill="none" stroke="#5496da" stroke-width="0.95" stroke-linejoin="round" stroke-linecap="butt" />
<path d="M594.2 379.6 L611.6 379.6" fill="none" stroke="#777" stroke-width="1" stroke-linejoin="round" stroke-linecap="butt" />
<rect x="599.5" y="379.6" width="3.9" height="6.6" fill="#8a8a8a"/>
<path d="M538.4 375.4 C539.87 376.05 544.3 378.5 547.2 379.3 C550.1 380.1 553.52 379.35 555.8 380.2 C558.08 381.05 558.92 381.7 560.9 384.4 C562.88 387.1 565.7 392.12 567.7 396.4 C569.7 400.68 571.62 405.25 572.9 410.1 C574.18 414.95 574.88 419.18 575.4 425.5 C575.92 431.82 575.9 444.25 576 448" fill="none" stroke="#484848" stroke-width="2.0" stroke-linejoin="round" stroke-linecap="butt" />
<path d="M538.2 374.4 L546.4 377.6 L546.4 380.6 L538.2 379 Z" fill="#484848"/>
<path d="M538.5 378.3 C539.99 380.14 544.48 385.54 547.41 389.36 C550.34 393.18 553.24 397.23 556.1 401.2 C558.95 405.17 562 408.89 564.54 413.2 C567.08 417.51 569.64 422.58 571.32 427.05 C573 431.52 573.88 436.18 574.64 440 C575.41 443.82 575.69 448.33 575.9 450" fill="none" stroke="#484848" stroke-width="1.3" stroke-linejoin="round" stroke-linecap="butt" />
<path d="M538.5 378.3 C540.2 379.9 545.44 384.4 548.67 387.92 C551.9 391.44 555.01 395.49 557.9 399.4 C560.78 403.31 563.62 406.94 565.98 411.4 C568.34 415.86 570.55 421.38 572.04 426.15 C573.53 430.92 574.27 436.02 574.92 440 C575.56 443.98 575.74 448.33 575.9 450" fill="none" stroke="#484848" stroke-width="1.05" stroke-linejoin="round" stroke-linecap="butt" />
<path d="M538.5 378.3 C540.37 379.7 546.24 383.45 549.72 386.72 C553.2 389.99 556.49 394.04 559.4 397.9 C562.31 401.76 564.97 405.32 567.18 409.9 C569.39 414.48 571.31 420.38 572.64 425.4 C573.97 430.42 574.6 435.9 575.14 440 C575.68 444.1 575.77 448.33 575.9 450" fill="none" stroke="#484848" stroke-width="0.45" stroke-linejoin="round" stroke-linecap="butt" />
<path d="M576.5 448 C576.6 444.25 576.72 431.82 577.1 425.5 C577.48 419.18 577.8 414.95 578.8 410.1 C579.8 405.25 581.38 400.38 583.1 396.4 C584.82 392.42 587.25 389 589.1 386.2 C590.95 383.4 593.35 380.7 594.2 379.6" fill="none" stroke="#484848" stroke-width="1.9" stroke-linejoin="round" stroke-linecap="butt" />
<path d="M599.4 379.6 C599.48 380.73 599.77 384.9 599.9 386.4 C600.03 387.9 600.72 387.5 600.2 388.6 C599.68 389.7 598.5 390.85 596.8 393 C595.1 395.15 592.13 398.37 590 401.5 C587.87 404.63 585.72 408.08 584 411.8 C582.28 415.52 580.77 419.82 579.7 423.8 C578.63 427.78 578.15 431.33 577.6 435.7 C577.05 440.07 576.6 447.62 576.4 450" fill="none" stroke="#484848" stroke-width="0.8" stroke-linejoin="round" stroke-linecap="butt" />
<path d="M601.4 379.6 C601.45 380.73 601.67 384.9 601.7 386.4 C601.73 387.9 602.15 387.42 601.6 388.6 C601.05 389.78 600.13 391.2 598.4 393.5 C596.67 395.8 593.45 399.23 591.2 402.4 C588.95 405.57 586.72 408.93 584.9 412.5 C583.08 416.07 581.47 419.93 580.3 423.8 C579.13 427.67 578.55 431.33 577.9 435.7 C577.25 440.07 576.65 447.62 576.4 450" fill="none" stroke="#484848" stroke-width="0.6" stroke-linejoin="round" stroke-linecap="butt" />
<path d="M603.4 379.6 C603.42 380.73 603.57 384.9 603.5 386.4 C603.43 387.9 603.58 387.33 603 388.6 C602.42 389.87 601.77 391.55 600 394 C598.23 396.45 594.77 400.1 592.4 403.3 C590.03 406.5 587.72 409.78 585.8 413.2 C583.88 416.62 582.17 420.05 580.9 423.8 C579.63 427.55 578.95 431.33 578.2 435.7 C577.45 440.07 576.7 447.62 576.4 450" fill="none" stroke="#484848" stroke-width="0.8" stroke-linejoin="round" stroke-linecap="butt" />
<path d="M575 438 L577.5 438 L576.55 483 L575.95 483 Z" fill="url(#stemD)"/>
<defs><linearGradient id="stemD" x1="0" y1="438" x2="0" y2="483" gradientUnits="userSpaceOnUse"><stop offset="0" stop-color="#484848"/><stop offset="0.5" stop-color="#555"/><stop offset="1" stop-color="#8a8a8a"/></linearGradient></defs>
<path d="M472.6 331.97h2.5M472.6 328.32h2.5M472.6 325.74h2.5M472.6 323.73h2.5M472.6 322.09h2.5M472.6 320.71h2.5M472.6 319.51h2.5M472.6 318.45h2.5M472.6 338.2h4.8M472.6 352.67h2.5M472.6 349.02h2.5M472.6 346.44h2.5M472.6 344.43h2.5M472.6 342.79h2.5M472.6 341.41h2.5M472.6 340.21h2.5M472.6 339.15h2.5M472.6 358.9h4.8M472.6 373.37h2.5M472.6 369.72h2.5M472.6 367.14h2.5M472.6 365.13h2.5M472.6 363.49h2.5M472.6 362.11h2.5M472.6 360.91h2.5M472.6 359.85h2.5M472.6 379.6h4.8M472.6 394.07h2.5M472.6 390.42h2.5M472.6 387.84h2.5M472.6 385.83h2.5M472.6 384.19h2.5M472.6 382.81h2.5M472.6 381.61h2.5M472.6 380.55h2.5M472.6 400.3h4.8M472.6 414.77h2.5M472.6 411.12h2.5M472.6 408.54h2.5M472.6 406.53h2.5M472.6 404.89h2.5M472.6 403.51h2.5M472.6 402.31h2.5M472.6 401.25h2.5M472.6 421h4.8M472.6 435.47h2.5M472.6 431.82h2.5M472.6 429.24h2.5M472.6 427.23h2.5M472.6 425.59h2.5M472.6 424.21h2.5M472.6 423.01h2.5M472.6 421.95h2.5M472.6 441.7h4.8M472.6 456.17h2.5M472.6 452.52h2.5M472.6 449.94h2.5M472.6 447.93h2.5M472.6 446.29h2.5M472.6 444.91h2.5M472.6 443.71h2.5M472.6 442.65h2.5M472.6 462.4h4.8M472.6 476.87h2.5M472.6 473.22h2.5M472.6 470.64h2.5M472.6 468.63h2.5M472.6 466.99h2.5M472.6 465.61h2.5M472.6 464.41h2.5M472.6 463.35h2.5M472.6 483.1h4.8M472.6 497.57h2.5M472.6 493.92h2.5M472.6 491.34h2.5M472.6 489.33h2.5M472.6 487.69h2.5M472.6 486.31h2.5M472.6 485.11h2.5M472.6 484.05h2.5M472.6 503.8h4.8M472.6 518.27h2.5M472.6 514.62h2.5M472.6 512.04h2.5M472.6 510.03h2.5M472.6 508.39h2.5M472.6 507.01h2.5M472.6 505.81h2.5M472.6 504.75h2.5" stroke="#1e1e1e" stroke-width="0.9" fill="none"/>
<path d="M489.85 524.5v-2.1M507.1 524.5v-4M524.35 524.5v-2.1M541.6 524.5v-4M558.85 524.5v-2.1M576.1 524.5v-4M593.35 524.5v-2.1M610.6 524.5v-4M627.85 524.5v-2.1M645.1 524.5v-4M662.35 524.5v-2.1" stroke="#1e1e1e" stroke-width="0.9" fill="none"/>
<rect x="472.6" y="317.5" width="207" height="207" fill="none" stroke="#1e1e1e" stroke-width="0.95"/>
<text transform="translate(472.6 546.1) scale(1 1.055)" font-size="20.8" text-anchor="middle">-3</text>
<text transform="translate(507.1 546.1) scale(1 1.055)" font-size="20.8" text-anchor="middle">-2</text>
<text transform="translate(541.6 546.1) scale(1 1.055)" font-size="20.8" text-anchor="middle">-1</text>
<text transform="translate(576.1 546.1) scale(1 1.055)" font-size="20.8" text-anchor="middle">0</text>
<text transform="translate(610.6 546.1) scale(1 1.055)" font-size="20.8" text-anchor="middle">1</text>
<text transform="translate(645.1 546.1) scale(1 1.055)" font-size="20.8" text-anchor="middle">2</text>
<text transform="translate(679.6 546.1) scale(1 1.055)" font-size="20.8" text-anchor="middle">3</text>
<text transform="translate(466.3 325.1) scale(1 1.055)" font-size="20.4" text-anchor="end">10<tspan font-size="13" dy="-8.1">-1</tspan></text>
<text transform="translate(466.3 366.5) scale(1 1.055)" font-size="20.4" text-anchor="end">10<tspan font-size="13" dy="-8.1">-3</tspan></text>
<text transform="translate(466.3 407.9) scale(1 1.055)" font-size="20.4" text-anchor="end">10<tspan font-size="13" dy="-8.1">-5</tspan></text>
<text transform="translate(466.3 449.3) scale(1 1.055)" font-size="20.4" text-anchor="end">10<tspan font-size="13" dy="-8.1">-7</tspan></text>
<text transform="translate(466.3 490.7) scale(1 1.055)" font-size="20.4" text-anchor="end">10<tspan font-size="13" dy="-8.1">-9</tspan></text>
<text transform="translate(466.3 532.1) scale(1 1.055)" font-size="20.4" text-anchor="end">10<tspan font-size="13" dy="-8.1">-11</tspan></text>
<text x="576.9" y="579.5" font-size="23.6" text-anchor="middle">Voltage (V)</text>
<text transform="translate(412.2 419.8) rotate(-90)" font-size="23.3" text-anchor="middle">Current (A)</text>
<text x="373.6" y="335.4" font-size="23.5">(d)</text>
<path d="M479.9 489.9h30.4" stroke="#9dc3ea" stroke-width="1.6" fill="none"/>
<text x="514" y="494.9" font-size="14" fill="#222" stroke-width="0.12">I<tspan font-size="9.5" dy="2.6">cc</tspan><tspan dy="-2.6"> 100 μA Forming</tspan></text>
<path d="M479.9 511.6h30.4" stroke="#505050" stroke-width="0.85" fill="none"/>
<text x="514" y="516.5" font-size="14" fill="#222" stroke-width="0.12">I<tspan font-size="9.5" dy="2.6">cc</tspan><tspan dy="-2.6"> 100 μA Switching</tspan></text>
</g>
</svg>
</body></html>
